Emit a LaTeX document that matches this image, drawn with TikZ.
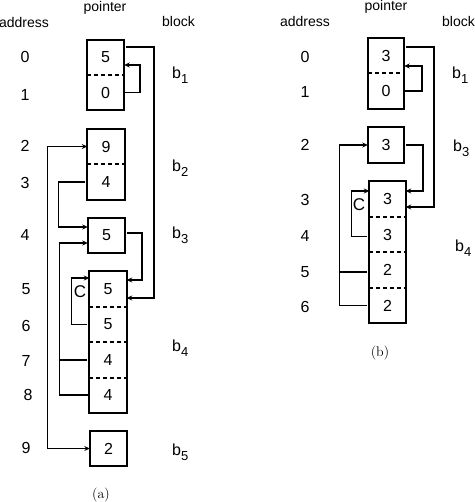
\documentclass[tikz,border=0pt]{standalone}
\usepackage{fontspec}
\newfontfamily\lab{Liberation Sans}
\usetikzlibrary{arrows.meta,fit}
\newcommand\subs[1]{\raisebox{-0.55ex}{\fontsize{13}{14}\selectfont #1}}
\begin{document}
\begin{tikzpicture}[x=1pt,y=-1pt,
  cell/.style={minimum width=37pt,minimum height=35.5pt,inner sep=0pt,font=\lab\fontsize{16}{18}\selectfont},
  blockbox/.style={draw,line width=2pt,inner sep=0pt},
  divider/.style={line width=2pt,dash pattern=on 4pt off 3pt},
  link/.style={line width=1.5pt},
  tip/.style={-{Stealth[length=5.5pt,width=5pt]}},
  bothtip/.style={{Stealth[length=5.5pt,width=5pt]}-{Stealth[length=5.5pt,width=5pt]}},
  addr/.style={font=\lab\fontsize{16}{18}\selectfont,inner sep=0pt},
  head/.style={font=\lab\fontsize{14}{16}\selectfont,inner sep=0pt},
  blab/.style={font=\lab\fontsize{16}{18}\selectfont,inner sep=0pt,anchor=west},
  capt/.style={font=\fontsize{14}{16}\selectfont,inner sep=0pt}]
\useasboundingbox (0,0) rectangle (474,502);

% ================= (a) =================
\node[head] (pa) at (105,8) {pointer};
\node[head] (aa) at (24,23) {address};
\node[head,anchor=west] (ba) at (162,22) {block};

% cells
\node[cell] (a0) at (105.5,57.5) {5};
\node[cell] (a1) at (105.5,92.5) {0};
\node[cell] (a2) at (106,146.5) {9};
\node[cell] (a3) at (106,182) {4};
\node[cell] (a4) at (106.5,235.5) {5};
\node[cell] (a5) at (108,289) {5};
\node[cell] (a6) at (108,324.5) {5};
\node[cell] (a7) at (108,360) {4};
\node[cell] (a8) at (108,395) {4};
\node[cell] (a9) at (108.5,448.5) {2};

\node[blockbox,fit=(a0)(a1)] (ab1) {};
\node[blockbox,fit=(a2)(a3)] (ab2) {};
\node[blockbox,fit=(a4)] (ab3) {};
\node[blockbox,fit=(a5)(a8)] (ab4) {};
\node[blockbox,fit=(a9)] (ab5) {};
\draw[divider] (a0.south west) -- (a0.south east);
\draw[divider] (a2.south west) -- (a2.south east);
\draw[divider] (a5.south west) -- (a5.south east);
\draw[divider] (a6.south west) -- (a6.south east);
\draw[divider] (a7.south west) -- (a7.south east);

% addresses
\node[addr] (ad0) at (25,57) {0};
\node[addr] (ad1) at (25,95) {1};
\node[addr] (ad2) at (25,146) {2};
\node[addr] (ad3) at (25,183) {3};
\node[addr] (ad4) at (25,235) {4};
\node[addr] (ad5) at (26,289) {5};
\node[addr] (ad6) at (26,326) {6};
\node[addr] (ad7) at (26,361) {7};
\node[addr] (ad8) at (28,395) {8};
\node[addr] (ad9) at (26,448) {9};

% block labels
\node[blab] (lb1) at (172,75) {b\subs{1}};
\node[blab] (lb2) at (172,168) {b\subs{2}};
\node[blab] (lb3) at (172,235) {b\subs{3}};
\node[blab] (lb4) at (172,348) {b\subs{4}};
\node[blab] (lb5) at (172,452) {b\subs{5}};

% connectors
\draw[link,tip] (a1.east) -- ++(16,0) |- ([yshift=-7.5pt]a0.east);
\draw[link,tip,shorten <=2pt] ([yshift=10.5pt]a0.east) -- ++(30,0) |- ([yshift=-9pt]a5.east);
\draw[link,tip,shorten <=2pt] ([yshift=2.5pt]a4.east) -- ++(17,0) |- ([yshift=9pt]a5.east);
\draw[link,bothtip] (a2.west) -- ++(-40,0) |- (a9.west);
\draw[link,tip,shorten <=2.5pt] (a3.west) -- ++(-29,0) |- ([yshift=8.5pt]a4.west);
\draw[link,tip,shorten <=1.5pt] (a8.west) -- ++(-30,0) |- ([yshift=-7.5pt]a4.west);
\draw[link,shorten <=2pt] (a7.west) -- ++(-30,0);
\draw[link,tip,shorten <=2pt] (a6.west) -- ++(-18,0) |- ([yshift=11pt]a5.west);
\node[addr,font=\lab\fontsize{17}{18}\selectfont] (ca) at (80,292) {C};

\node[capt] (cpa) at (101,495) {(a)};

% ================= (b) =================
\node[head] (pb) at (386,7) {pointer};
\node[head] (abh) at (305,22) {address};
\node[head,anchor=west] (bbh) at (442,22) {block};

\node[cell,minimum width=36pt] (c0) at (386,55.5) {3};
\node[cell,minimum width=36pt] (c1) at (386,91) {0};
\node[cell,minimum width=36pt] (c2) at (386,145) {3};
\node[cell,minimum width=36pt] (c3) at (387.5,199) {3};
\node[cell,minimum width=36pt] (c4) at (387.5,234.5) {3};
\node[cell,minimum width=36pt] (c5) at (387.5,270) {2};
\node[cell,minimum width=36pt] (c6) at (387.5,305.5) {2};

\node[blockbox,fit=(c0)(c1)] (bb1) {};
\node[blockbox,fit=(c2)] (bb3) {};
\node[blockbox,fit=(c3)(c6)] (bb4) {};
\draw[divider] (c0.south west) -- (c0.south east);
\draw[divider] (c3.south west) -- (c3.south east);
\draw[divider] (c4.south west) -- (c4.south east);
\draw[divider] (c5.south west) -- (c5.south east);

\node[addr] (bd0) at (305,57) {0};
\node[addr] (bd1) at (305,92) {1};
\node[addr] (bd2) at (305,145) {2};
\node[addr] (bd3) at (305,200) {3};
\node[addr] (bd4) at (305,236) {4};
\node[addr] (bd5) at (305,272) {5};
\node[addr] (bd6) at (305,307) {6};

\node[blab] (mb1) at (452,75) {b\subs{1}};
\node[blab] (mb3) at (453,148) {b\subs{3}};
\node[blab] (mb4) at (455,248) {b\subs{4}};

\draw[link,tip] (c1.east) -- ++(18,0) |- ([yshift=-10.5pt]c0.east);
\draw[link,tip,shorten <=2pt] ([yshift=8.5pt]c0.east) -- ++(30,0) |- ([yshift=-8pt]c3.east);
\draw[link,tip,shorten <=2pt] (c2.east) -- ++(19,0) |- ([yshift=8pt]c3.east);
\draw[link,tip,shorten <=2pt] (c6.west) -- ++(-30,0) |- (c2.west);
\draw[link,shorten <=2pt] ([yshift=-2pt]c5.west) -- ++(-30,0);
\draw[link,tip,shorten <=2pt] ([yshift=-2pt]c4.west) -- ++(-18,0) |- ([yshift=8pt]c3.west);
\node[addr,font=\lab\fontsize{17}{18}\selectfont] (cb) at (359,205) {C};

\node[capt] (cpb) at (380,353) {(b)};
\end{tikzpicture}
\end{document}
